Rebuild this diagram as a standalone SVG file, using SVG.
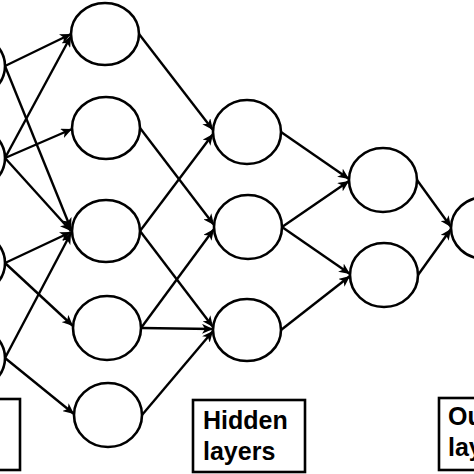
<svg xmlns="http://www.w3.org/2000/svg" width="474" height="474" viewBox="0 0 474 474">
<style>
.n{fill:#fff;stroke:#000;stroke-width:2.6}
.e{stroke:#000;stroke-width:2.4;fill:none;marker-end:url(#a)}
.b{fill:#fff;stroke:#000;stroke-width:2.6}
.t{font-family:"Liberation Sans",Arial,sans-serif;font-weight:bold;font-size:25px;fill:#000}
</style>
<defs>
<marker id="a" markerUnits="userSpaceOnUse" markerWidth="12" markerHeight="10" refX="11" refY="5" orient="auto">
<path d="M0,0 L11,5 L0,10 L3,5 Z" fill="#000"/>
</marker>
</defs>
<rect width="474" height="474" fill="#fff"/>
<g id="connectors">
<line class="e" x1="5" y1="66" x2="71" y2="34"/>
<line class="e" x1="5" y1="66" x2="71" y2="229"/>
<line class="e" x1="5" y1="158" x2="71" y2="36"/>
<line class="e" x1="5" y1="158" x2="72" y2="129"/>
<line class="e" x1="5" y1="158" x2="71" y2="231"/>
<line class="e" x1="5" y1="263" x2="71" y2="232"/>
<line class="e" x1="5" y1="263" x2="73" y2="326"/>
<line class="e" x1="5" y1="358" x2="71" y2="233"/>
<line class="e" x1="5" y1="358" x2="74" y2="414"/>
<line class="e" x1="139" y1="34" x2="213" y2="130"/>
<line class="e" x1="140" y1="128" x2="214" y2="225"/>
<line class="e" x1="140" y1="231" x2="213" y2="134"/>
<line class="e" x1="140" y1="231" x2="213" y2="327"/>
<line class="e" x1="141" y1="328" x2="214" y2="229"/>
<line class="e" x1="141" y1="328" x2="213" y2="329"/>
<line class="e" x1="142" y1="415" x2="213" y2="331"/>
<line class="e" x1="281" y1="132" x2="349" y2="179"/>
<line class="e" x1="282" y1="227" x2="349" y2="181"/>
<line class="e" x1="282" y1="227" x2="350" y2="274"/>
<line class="e" x1="281" y1="330" x2="350" y2="276"/>
<line class="e" x1="417" y1="180" x2="451" y2="227"/>
<line class="e" x1="418" y1="275" x2="451" y2="229"/>
</g>
<g id="in1"><ellipse class="n" cx="-28" cy="66" rx="33" ry="31"/></g>
<g id="in2"><ellipse class="n" cx="-28" cy="158" rx="33" ry="31"/></g>
<g id="in3"><ellipse class="n" cx="-28" cy="263" rx="33" ry="31"/></g>
<g id="in4"><ellipse class="n" cx="-28" cy="358" rx="33" ry="31"/></g>
<g id="h1a"><ellipse class="n" cx="105" cy="34" rx="34" ry="31"/></g>
<g id="h1b"><ellipse class="n" cx="106" cy="128" rx="34" ry="31"/></g>
<g id="h1c"><ellipse class="n" cx="106" cy="231" rx="34" ry="31"/></g>
<g id="h1d"><ellipse class="n" cx="107" cy="328" rx="34" ry="32"/></g>
<g id="h1e"><ellipse class="n" cx="108" cy="415" rx="34" ry="32"/></g>
<g id="h2a"><ellipse class="n" cx="247" cy="132" rx="34" ry="32"/></g>
<g id="h2b"><ellipse class="n" cx="248" cy="227" rx="34" ry="32"/></g>
<g id="h2c"><ellipse class="n" cx="247" cy="330" rx="34" ry="31"/></g>
<g id="h3a"><ellipse class="n" cx="383" cy="180" rx="34" ry="32"/></g>
<g id="h3b"><ellipse class="n" cx="384" cy="275" rx="34" ry="32"/></g>
<g id="out"><ellipse class="n" cx="485" cy="228" rx="34" ry="31"/></g>
<g id="input-label"><rect class="b" x="-80" y="399" width="100" height="71"/></g>
<g id="hidden-label"><rect class="b" x="193" y="400" width="112" height="72"/>
<text class="t" x="203" y="429">Hidden</text>
<text class="t" x="203" y="460">layers</text></g>
<g id="output-label"><rect class="b" x="439" y="398" width="100" height="72"/>
<text class="t" x="448" y="425">Output</text>
<text class="t" x="448" y="456">layer</text></g>
</svg>
